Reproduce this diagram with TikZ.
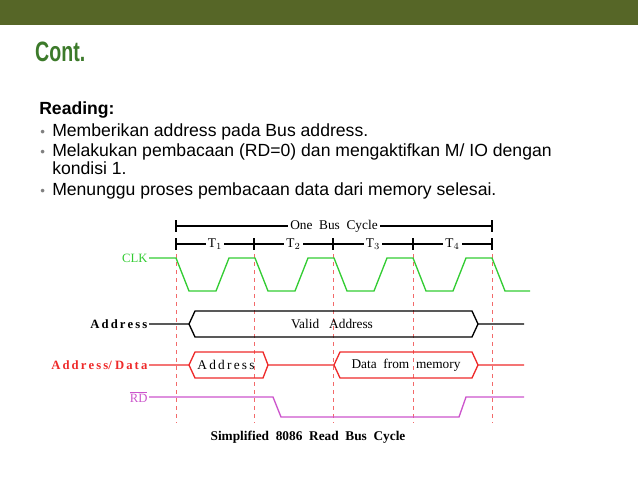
\documentclass[tikz,border=0pt]{standalone}
\usepackage{fontspec}
\setmainfont{Liberation Sans}
\newfontfamily\serif{Liberation Serif}
\definecolor{bar}{HTML}{566627}
\definecolor{ttl}{HTML}{3C7A2A}
\definecolor{clkg}{HTML}{33CC33}
\definecolor{sigr}{HTML}{EE2A2A}
\definecolor{sigp}{HTML}{CC55CC}
\begin{document}
\begin{tikzpicture}[x=0.75pt,y=-0.75pt,
  lbl/.style={anchor=east,inner sep=1pt,font=\serif\fontsize{9.5}{10}\selectfont},
  body/.style={anchor=base west,inner sep=0pt,font=\fontsize{13.2}{14}\selectfont},
  bul/.style={anchor=base west,inner sep=0pt,font=\fontsize{10}{11}\selectfont,text=gray},
  sig/.style={line width=1pt},
  tick/.style={line width=0.8pt},
  tl/.style={fill=white,inner sep=1.5pt,font=\serif\fontsize{10}{10}\selectfont}]
\useasboundingbox (0,0) rectangle (638,478);
\fill[bar] (0,0) rectangle (638,25);
\node[anchor=base west,inner sep=0pt,text=ttl,font=\bfseries\fontsize{21}{24}\selectfont,xscale=0.7] (title) at (35,62) {Cont.};
\node[body,font=\bfseries\fontsize{13.2}{14}\selectfont] (rd) at (39,114) {Reading:};
\node[bul] (b1) at (40,136) {•};
\node[body] (t1) at (52,136) {Memberikan address pada Bus address.};
\node[bul] (b2) at (40,156) {•};
\node[body] (t2) at (52,156) {Melakukan pembacaan (RD=0) dan mengaktifkan M/ IO dengan};
\node[body] (t2b) at (52,174) {kondisi 1.};
\node[bul] (b3) at (40,195) {•};
\node[body] (t3) at (52,195) {Menunggu proses pembacaan data dari memory selesai.};
% dashed guides
\foreach \x/\n in {176/a,254/b,333/c,413/d,492/e}{
  \draw[sigr!70,dashed,line width=0.7pt] (\x,246) -- (\x,423);
  \coordinate (t\n) at (\x,244);
}
% bus cycle
\draw[tick] (176,220) -- (176,232) (492,220) -- (492,232);
\draw[tick] (176,226) -- node[tl] (obc) {One\ \ Bus\ \ Cycle} (492,226);
\foreach \x in {176,254,333,413,492} \draw[tick] (\x,238) -- (\x,250);
\draw[tick] (ta) -- node[tl] (T1) {T$_1$} (tb);
\draw[tick] (tb) -- node[tl] (T2) {T$_2$} (tc);
\draw[tick] (tc) -- node[tl] (T3) {T$_3$} (td);
\draw[tick] (td) -- node[tl] (T4) {T$_4$} (te);
% labels
\node[lbl,text=clkg] (clk) at (149,258) {CLK};
\node[lbl,font=\serif\bfseries\fontsize{9.5}{10}\selectfont] (addr) at (149,324) {A\,d\,d\,r\,e\,s\,s};
\node[lbl,text=sigr,font=\serif\bfseries\fontsize{9.5}{10}\selectfont] (ad) at (149,365) {A\,d\,d\,r\,e\,s\,s/\ D\,a\,t\,a};
\node[lbl,text=sigp] (rdn) at (149,397) {$\overline{\mbox{RD}}$};
% CLK
\draw[sig,clkg] (clk.east) -- (176,258)
  \foreach \o in {0,79,158,237}{ -- (176+\o,258) -- (189+\o,291) -- (216+\o,291) -- (229+\o,258)}
  -- (492,258) -- (505,291) -- (530,291);
% Address
\draw[sig] (addr.east) -- (189,324) -- (195,311) -- (472,311) -- (478,324) -- (524,324);
\draw[sig] (189,324) -- (195,337) -- (472,337) -- (478,324);
\node[font=\serif\fontsize{10}{10}\selectfont] (va) at (332,324) {Valid\ \ \ Address};
% Address/Data
\draw[sig,sigr] (ad.east) -- (189,365) -- (195,352) -- (263,352) -- (268,365) -- (334,365) -- (340,352) -- (472,352) -- (478,365) -- (524,365);
\draw[sig,sigr] (189,365) -- (195,378) -- (263,378) -- (268,365);
\draw[sig,sigr] (334,365) -- (340,378) -- (472,378) -- (478,365);
\node[font=\serif\fontsize{10}{10}\selectfont] (adA) at (226,365) {A\,d\,d\,r\,e\,s\,s};
\node[font=\serif\fontsize{10}{10}\selectfont] (adD) at (406,365) {Data\ \ from\ \ memory};
% RD
\draw[sig,sigp] (rdn.east) -- (273,397) -- (281,417) -- (459,417) -- (466,397) -- (524,397);
% caption
\node[font=\serif\bfseries\fontsize{10}{10}\selectfont] (cap) at (308,437) {Simplified\ \ 8086\ \ Read\ \ Bus\ \ Cycle};
\end{tikzpicture}
\end{document}
